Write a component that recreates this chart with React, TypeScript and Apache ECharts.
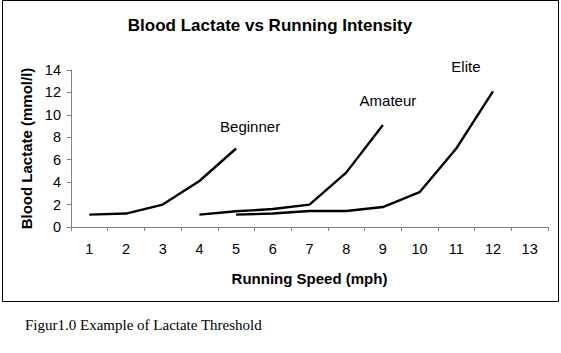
import React, { useEffect, useRef } from "react";
import * as echarts from "echarts";

const speeds = ["1", "2", "3", "4", "5", "6", "7", "8", "9", "10", "11", "12", "13"];
const beginner = [1.1, 1.2, 2.0, 4.1, 7.0, null, null, null, null, null, null, null, null];
const amateur = [null, null, null, 1.1, 1.4, 1.6, 2.0, 4.85, 9.1, null, null, null, null];
const elite = [null, null, null, null, 1.1, 1.2, 1.43, 1.43, 1.78, 3.1, 7.0, 12.1, null];
const seriesNames = ["Beginner", "Amateur", "Elite"];
const labelOffsets: [number, number][] = [[14, -10], [5, -12], [-27, -12]];

const SANS = "Liberation Sans, Arial, sans-serif";

export default function App() {
  const ref = useRef<HTMLDivElement>(null);
  useEffect(() => {
    document.body.style.margin = "0";
    const chart = echarts.init(ref.current!, null, { renderer: "svg" });
    const all = [beginner, amateur, elite];
    const series = all.map((arr, si) => {
      let last = -1;
      arr.forEach((v, i) => { if (v != null) last = i; });
      return {
        name: seriesNames[si],
        type: "line",
        showSymbol: true,
        symbol: "circle",
        symbolSize: 0,
        connectNulls: false,
        lineStyle: { color: "#000", width: 2.4 },
        itemStyle: { color: "#000" },
        data: arr.map((v, i) =>
          i === last
            ? {
                value: v,
                label: {
                  show: true,
                  position: "top",
                  distance: 5,
                  formatter: seriesNames[si],
                  offset: labelOffsets[si],
                  color: "#000",
                  fontFamily: SANS,
                  fontSize: 15,
                },
              }
            : v
        ),
      };
    });
    chart.setOption({
      animation: false,
      backgroundColor: "#fff",
      title: {
        text: "Blood Lactate vs Running Intensity",
        left: 265,
        textAlign: "center",
        top: 12,
        textStyle: { fontFamily: SANS, fontSize: 17, fontWeight: "bold", color: "#000" },
      },
      grid: { left: 71, right: 13, top: 70, bottom: 126, containLabel: false },
      xAxis: {
        type: "category",
        data: speeds,
        boundaryGap: true,
        name: "Running Speed (mph)",
        nameLocation: "middle",
        nameGap: 44,
        nameTextStyle: { fontFamily: SANS, fontSize: 15, fontWeight: "bold", color: "#000" },
        axisLine: { lineStyle: { color: "#808080", width: 1 } },
        axisTick: { show: true, length: 4, lineStyle: { color: "#808080" } },
        axisLabel: { margin: 14, fontFamily: SANS, fontSize: 14.5, color: "#000" },
        splitLine: { show: false },
      },
      yAxis: {
        type: "value",
        min: 0,
        max: 14,
        interval: 2,
        name: "Blood Lactate (mmol/l)",
        nameLocation: "middle",
        nameGap: 37,
        nameTextStyle: { fontFamily: SANS, fontSize: 15, fontWeight: "bold", color: "#000" },
        axisLine: { show: true, lineStyle: { color: "#808080", width: 1 } },
        axisTick: { show: true, length: 4, lineStyle: { color: "#808080" } },
        axisLabel: { margin: 10, fontFamily: SANS, fontSize: 14.5, color: "#000" },
        splitLine: { show: false },
      },
      graphic: [
        {
          type: "rect",
          shape: { x: 2.5, y: 0.5, width: 556, height: 301 },
          style: { fill: "none", stroke: "#000", lineWidth: 1 },
          silent: true,
          z: -1,
        },
        {
          type: "text",
          x: 25,
          y: 317,
          style: {
            text: "Figur1.0 Example of Lactate Threshold",
            fontFamily: "Liberation Serif, Times New Roman, serif",
            fontSize: 15,
            fill: "#000",
          },
        },
      ],
      series,
    });
    return () => chart.dispose();
  }, []);
  return <div ref={ref} style={{ width: 561, height: 353 }} />;
}
